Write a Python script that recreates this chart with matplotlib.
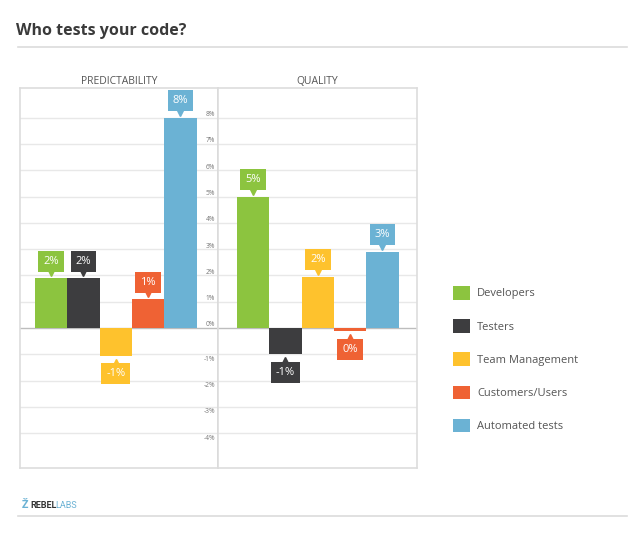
import numpy as np
import matplotlib
matplotlib.use("Agg")
import matplotlib.pyplot as plt
from matplotlib.patches import Patch
from matplotlib.transforms import offset_copy

plt.rcParams["font.family"] = ["Open Sans", "DejaVu Sans"]

# данные
series = ["Developers", "Testers", "Team Management", "Customers/Users", "Automated tests"]
colors = ["#8cc43f", "#3d3d3f", "#fec22d", "#ef6234", "#6bb2d4"]
predictability = [1.9, 1.9, -1.05, 1.1, 8.0]
predictability_labels = ["2%", "2%", "-1%", "1%", "8%"]
quality = [5.0, -1.0, 1.95, -0.12, 2.9]
quality_labels = ["5%", "-1%", "2%", "0%", "3%"]
panels = ["PREDICTABILITY", "QUALITY"]
ticks = list(range(-4, 9))

W, H = 638, 540
fig = plt.figure(figsize=(W / 100, H / 100), dpi=100)
fig.patch.set_facecolor("white")


def fx(px):
    return px / W


def fy(py):
    return 1 - py / H


# заголовок и линии
fig.text(fx(16), fy(31), "Who tests your code?", fontsize=11.5, fontweight="bold",
         color="#3a3a3a", va="center", ha="left")
fig.add_artist(plt.Line2D([fx(18), fx(627)], [fy(47), fy(47)], color="#dcdcdc", lw=1.2))
fig.add_artist(plt.Line2D([fx(18), fx(627)], [fy(516), fy(516)], color="#dcdcdc", lw=1.2))

# логотип
fig.text(fx(22), fy(505), "Ž", fontsize=8, color="#6bb2d4", va="center", ha="left",
         fontweight="bold")
fig.text(fx(30), fy(505), "REBEL", fontsize=6.5, color="#333333", va="center", ha="left",
         fontweight="bold", family=["Roboto", "DejaVu Sans"])
fig.text(fx(55), fy(505), "LABS", fontsize=6.5, color="#6bb2d4", va="center", ha="left",
         family=["Roboto", "DejaVu Sans"])

top_px, bot_px = 88, 467.7
zero_px, scale = 328, 26.3
ymax = (zero_px - top_px) / scale
ymin = (zero_px - bot_px) / scale

bar_px = 32.3
panel_specs = [(20, 218, 15), (218, 417, 19)]
data = [(predictability, predictability_labels), (quality, quality_labels)]

x = np.arange(len(series))
for k, ((left, right, margin), (vals, labs)) in enumerate(zip(panel_specs, data)):
    ax = fig.add_axes([fx(left), fy(bot_px), fx(right - left), (bot_px - top_px) / H])
    x0 = -0.5 - margin / bar_px
    ax.set_xlim(x0, x0 + (right - left) / bar_px)
    ax.set_ylim(ymin, ymax)
    ax.set_xticks([])
    ax.set_yticks([])
    for s in ax.spines.values():
        s.set_color("#dddddd")
        s.set_linewidth(1.2)
    if k == 0:
        ax.spines["right"].set_color("#cccccc")
    for t in ticks:
        if t == 0:
            continue
        ax.axhline(t, color="#e8e8e8", lw=1, zorder=0)
    ax.axhline(0, color="#bdbdbd", lw=1, zorder=1)
    ax.bar(x, vals, width=1.0, color=colors, zorder=2)
    ax.set_title(panels[k], fontsize=7.5, color="#555555", pad=3)

    # подписи значений
    for i, (v, lab) in enumerate(zip(vals, labs)):
        box = dict(boxstyle="square,pad=0.45", fc=colors[i], ec="none")
        if v >= 0:
            ax.annotate(lab, xy=(i, v), xytext=(0, 17), textcoords="offset pixels",
                        ha="center", va="center", color="white", fontsize=8, zorder=5,
                        bbox=box)
            tr = offset_copy(ax.transData, fig=fig, x=0, y=5, units="dots")
            ax.plot(i, v, marker="v", ms=4, color=colors[i], transform=tr, zorder=5)
        else:
            ax.annotate(lab, xy=(i, v), xytext=(0, -18), textcoords="offset pixels",
                        ha="center", va="center", color="white", fontsize=8, zorder=5,
                        bbox=box)
            tr = offset_copy(ax.transData, fig=fig, x=0, y=-6, units="dots")
            ax.plot(i, v, marker="^", ms=4, color=colors[i], transform=tr, zorder=5)

    if k == 0:
        for t in ticks:
            dy = 3 if t >= 0 else -5
            tr = offset_copy(ax.get_yaxis_transform(), fig=fig, x=-3, y=dy, units="dots")
            ax.text(1, t, f"{t}%", transform=tr, ha="right", va="center",
                    fontsize=4.8, color="#777777", zorder=6)

# легенда
handles = [Patch(facecolor=c, edgecolor="none") for c in colors]
fig.legend(handles, series, loc="upper left", bbox_to_anchor=(fx(443), fy(276)),
           frameon=False, fontsize=8, handlelength=1.5, handleheight=1.5,
           labelspacing=1.77, handletextpad=0.65, labelcolor="#555555")

fig.savefig("out.png", dpi=100, facecolor="white")
